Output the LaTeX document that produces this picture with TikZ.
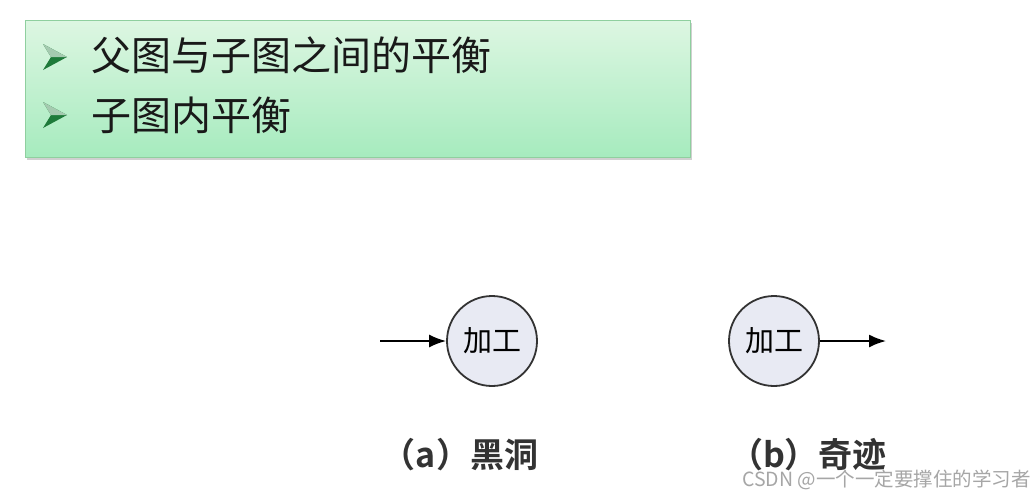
\documentclass[tikz,border=0pt]{standalone}
\usepackage{fontspec}
\newfontfamily\cjk{Noto Sans CJK SC}
\newfontfamily\cjkb{Noto Sans CJK SC Bold}
\usetikzlibrary{arrows.meta,shadows}
\definecolor{boxtop}{HTML}{DDF6E2}
\definecolor{boxbot}{HTML}{A6EBBE}
\definecolor{boxedge}{HTML}{8FCF9F}
\definecolor{bulletg}{HTML}{1E7A3A}
\definecolor{circfill}{HTML}{E8EAF3}
\tikzset{
  panel/.style={draw=boxedge, line width=0.8pt, top color=boxtop, bottom color=boxbot,
    drop shadow={shadow xshift=2pt, shadow yshift=-3pt, fill=gray!60, opacity=0.6}},
  item/.style={anchor=west, font=\cjk\fontsize{40}{44}\selectfont, text=black!90, inner sep=0pt},
  proc/.style={circle, draw=black!80, line width=1.8pt, fill=circfill, minimum size=90pt, inner sep=0pt,
    font=\cjk\fontsize{29}{31}\selectfont},
  flow/.style={line width=1.8pt, -{Latex[length=17pt,width=13pt]}},
  subcap/.style={font=\cjkb\fontsize{34}{36}\selectfont, text=black!80, inner sep=0pt},
  wmark/.style={font=\cjk\fontsize{19.5}{20}\selectfont, text=black!35, inner sep=0pt, anchor=east}
}
\begin{document}
\begin{tikzpicture}[x=1pt,y=-1pt]
\useasboundingbox (0,0) rectangle (1035,498);
\fill[white] (0,0) rectangle (1035,498);
\node[panel, minimum width=665pt, minimum height=137pt, anchor=north west, inner sep=0pt] (box) at (25,20) {};
% bullets
\foreach \y/\n in {57/b1,115/b2}{
  \fill[bulletg] (43,\y-13) -- (67,\y) -- (43,\y+13) -- (51,\y) -- cycle;
  \fill[bulletg!40!white] (43,\y-13) -- (67,\y) -- (51,\y) -- cycle;
}
\node[item] (t1) at (91,55) {父图与子图之间的平衡};
\node[item] (t2) at (91,115) {子图内平衡};
% processes
\node[proc] (p1) at (492,341) {加工};
\node[proc] (p2) at (774,341) {加工};
\coordinate (in) at (380,341);
\coordinate (out) at (886,341);
\draw[flow] (in) -- (p1);
\draw[flow] (p2) -- (out);
\node[subcap] (c1) at (460,455) {（a）黑洞};
\node[subcap] (c2) at (808,455) {（b）奇迹};
\node[wmark] (wm) at (1031,480) {CSDN @一个一定要撑住的学习者};
\end{tikzpicture}
\end{document}
